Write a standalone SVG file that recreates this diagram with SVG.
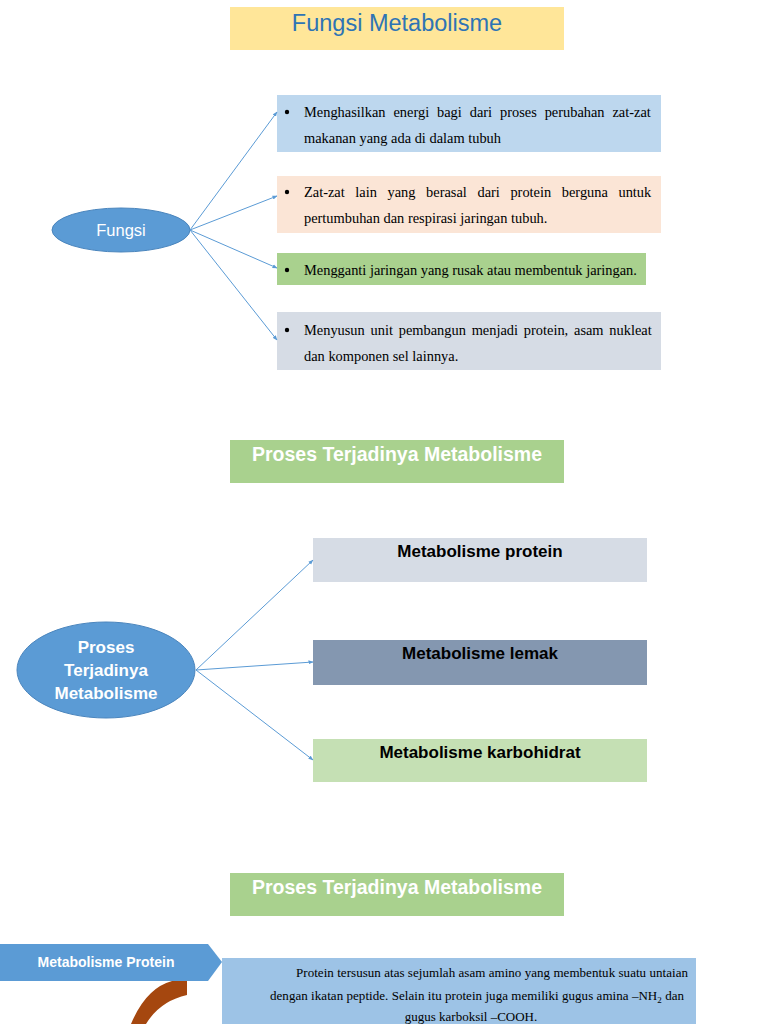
<svg xmlns="http://www.w3.org/2000/svg" width="768" height="1024" viewBox="0 0 768 1024">
<defs>
<marker id="ah" viewBox="0 0 10 10" refX="9" refY="5" markerWidth="5" markerHeight="5" orient="auto" markerUnits="userSpaceOnUse">
<path d="M0,1 L10,5 L0,9 Z" fill="#5B9BD5"/>
</marker>
<style>
.serif{font-family:"Liberation Serif","Times New Roman",serif;font-size:14.4px;fill:#000}
.small{font-family:"Liberation Serif","Times New Roman",serif;font-size:13px;fill:#000}
.sans{font-family:"Liberation Sans",Arial,sans-serif}
.hdr{font-family:"Liberation Sans",Arial,sans-serif;font-weight:bold;font-size:19.5px;fill:#fff}
.lbl{font-family:"Liberation Sans",Arial,sans-serif;font-weight:bold;font-size:17px;fill:#000}
.conn line{stroke:#5B9BD5;stroke-width:1;marker-end:url(#ah)}
</style>
</defs>
<rect width="768" height="1024" fill="#fff"/>

<g id="title">
<rect x="230" y="7" width="334" height="43" fill="#FFE699"/>
<text x="397" y="31" text-anchor="middle" class="sans" font-size="23.5" fill="#2E74B5">Fungsi Metabolisme</text>
</g>

<g id="fungsi">
<ellipse cx="121" cy="230" rx="69" ry="22" fill="#5B9BD5" stroke="#4A85BD" stroke-width="1"/>
<text x="121" y="236" text-anchor="middle" class="sans" font-size="16.5" fill="#fff">Fungsi</text>
</g>

<g id="f1">
<rect x="277" y="95" width="384" height="57" fill="#BDD7EE"/>
<circle cx="287" cy="112" r="2.2" fill="#000"/>
<text x="304" y="117" class="serif" word-spacing="4.3">Menghasilkan energi bagi dari proses perubahan zat-zat</text>
<text x="304" y="143" class="serif">makanan yang ada di dalam tubuh</text>
</g>

<g id="f2">
<rect x="277" y="176" width="384" height="57" fill="#FBE5D6"/>
<circle cx="287" cy="192" r="2.2" fill="#000"/>
<text x="304" y="197" class="serif" word-spacing="7">Zat-zat lain yang berasal dari protein berguna untuk</text>
<text x="304" y="223" class="serif">pertumbuhan dan respirasi jaringan tubuh.</text>
</g>

<g id="f3">
<rect x="277" y="253" width="369" height="32" fill="#A9D18E"/>
<circle cx="287" cy="270" r="2.2" fill="#000"/>
<text x="304" y="275" class="serif">Mengganti jaringan yang rusak atau membentuk jaringan.</text>
</g>

<g id="f4">
<rect x="277" y="312" width="384" height="58" fill="#D6DCE5"/>
<circle cx="287" cy="330" r="2.2" fill="#000"/>
<text x="304" y="335" class="serif" word-spacing="2.2">Menyusun unit pembangun menjadi protein, asam nukleat</text>
<text x="304" y="361" class="serif">dan komponen sel lainnya.</text>
</g>

<g id="header2">
<rect x="230" y="440" width="334" height="43" fill="#A9D18E"/>
<text x="397" y="461" text-anchor="middle" class="hdr">Proses Terjadinya Metabolisme</text>
</g>

<g id="proses">
<ellipse cx="106" cy="670" rx="89" ry="48" fill="#5B9BD5" stroke="#4A85BD" stroke-width="1"/>
<text x="106" y="653" text-anchor="middle" class="sans" font-weight="bold" font-size="17" fill="#fff">Proses</text>
<text x="106" y="676" text-anchor="middle" class="sans" font-weight="bold" font-size="17" fill="#fff">Terjadinya</text>
<text x="106" y="699" text-anchor="middle" class="sans" font-weight="bold" font-size="17" fill="#fff">Metabolisme</text>
</g>

<g id="mprotein">
<rect x="313" y="538" width="334" height="44" fill="#D6DCE5"/>
<text x="480" y="557" text-anchor="middle" class="lbl">Metabolisme protein</text>
</g>

<g id="mlemak">
<rect x="313" y="640" width="334" height="45" fill="#8497B0"/>
<text x="480" y="659" text-anchor="middle" class="lbl">Metabolisme lemak</text>
</g>

<g id="mkarbo">
<rect x="313" y="739" width="334" height="43" fill="#C5E0B4"/>
<text x="480" y="758" text-anchor="middle" class="lbl">Metabolisme karbohidrat</text>
</g>

<g id="header3">
<rect x="230" y="873" width="334" height="43" fill="#A9D18E"/>
<text x="397" y="894" text-anchor="middle" class="hdr">Proses Terjadinya Metabolisme</text>
</g>

<g id="mp-tag">
<path d="M0,944 L208,944 L222,962 L208,981 L0,981 Z" fill="#5B9BD5"/>
<text x="106" y="967" text-anchor="middle" class="sans" font-weight="bold" font-size="14" fill="#fff">Metabolisme Protein</text>
</g>

<g id="mp-text">
<rect x="222" y="958" width="474" height="70" fill="#9DC3E6"/>
<text x="296" y="977" class="small" textLength="392" lengthAdjust="spacing">Protein tersusun atas sejumlah asam amino yang membentuk suatu untaian</text>
<text x="270" y="1000" class="small" textLength="414" lengthAdjust="spacing">dengan ikatan peptide. Selain itu protein juga memiliki gugus amina –NH<tspan font-size="9" dy="3">2</tspan><tspan dy="-3"> dan</tspan></text>
<text x="471" y="1021" text-anchor="middle" class="small">gugus karboksil –COOH.</text>
</g>

<g id="curved-arrow">
<path d="M172,981 L187,981 L187,995 Q160,1001 146,1024 L131,1024 Q146,988 172,981 Z" fill="#A5470F"/>
</g>

<g id="connectors" class="conn">
<line x1="190" y1="230" x2="277" y2="112"/>
<line x1="190" y1="230" x2="277" y2="196"/>
<line x1="190" y1="230" x2="277" y2="268"/>
<line x1="190" y1="230" x2="277" y2="340"/>
<line x1="196" y1="670" x2="313" y2="560"/>
<line x1="196" y1="670" x2="313" y2="662"/>
<line x1="196" y1="670" x2="313" y2="760"/>
</g>
</svg>
